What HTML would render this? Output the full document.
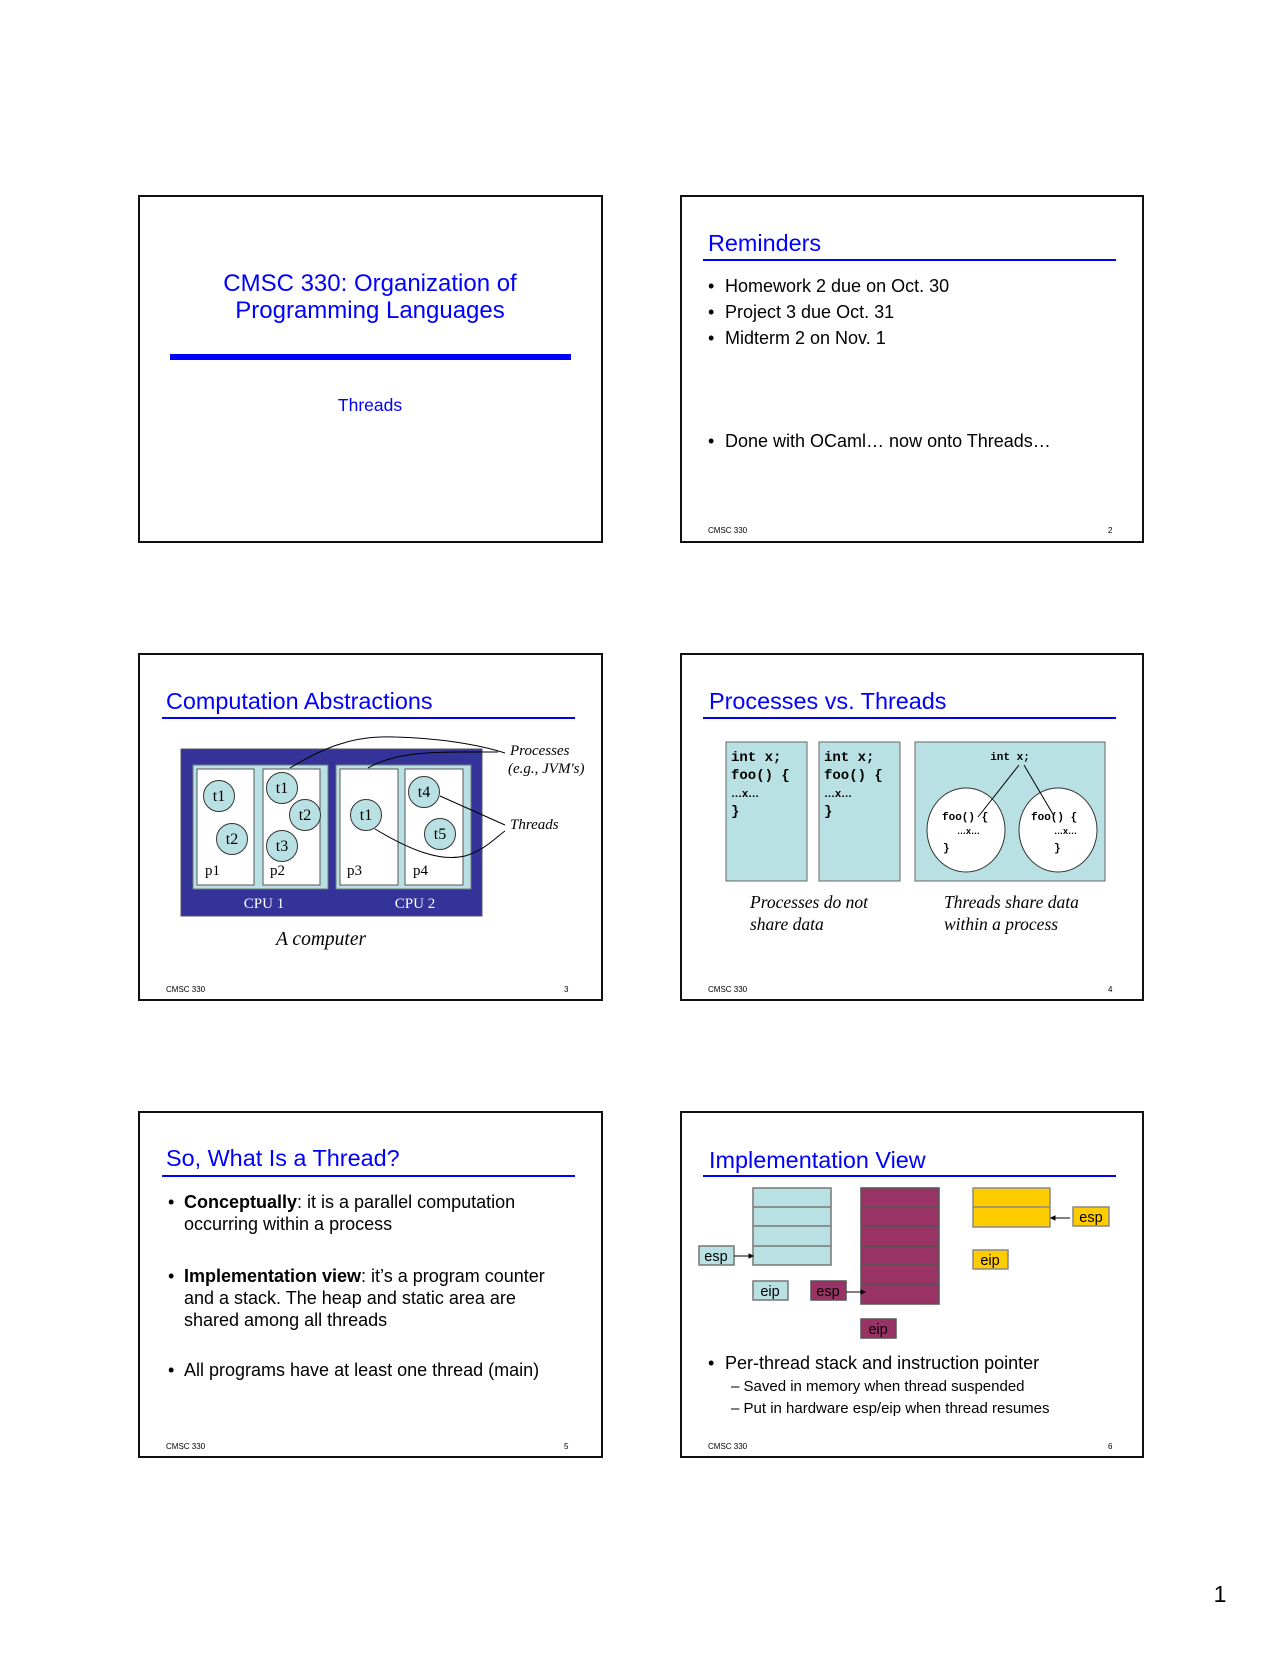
<!DOCTYPE html>
<html><head><meta charset="utf-8"><style>
html,body{margin:0;padding:0;background:#fff;}
svg{display:block;}
.s{font-family:"Liberation Sans",sans-serif;}
.t{font-family:"Liberation Sans",sans-serif;fill:#0000ff;font-size:23.4px;}
.b{font-family:"Liberation Sans",sans-serif;fill:#000;font-size:18px;}
.f{font-family:"Liberation Sans",sans-serif;fill:#000;font-size:8px;}
.sr{font-family:"Liberation Serif",serif;}
.m{font-family:"Liberation Mono",monospace;font-weight:bold;}
</style></head><body>
<svg width="1280" height="1656" viewBox="0 0 1280 1656" xmlns="http://www.w3.org/2000/svg">
<rect width="1280" height="1656" fill="#fff"/>
<g fill="none" stroke="#111" stroke-width="2">
<rect x="139" y="196" width="463" height="346"/>
<rect x="681" y="196" width="462" height="346"/>
<rect x="139" y="654" width="463" height="346"/>
<rect x="681" y="654" width="462" height="346"/>
<rect x="139" y="1112" width="463" height="345"/>
<rect x="681" y="1112" width="462" height="345"/>
</g>

<!-- Slide 1 -->
<text class="s" x="370" y="291" text-anchor="middle" fill="#0000ff" font-size="24">CMSC 330:  Organization of</text>
<text class="s" x="370" y="318" text-anchor="middle" fill="#0000ff" font-size="24">Programming Languages</text>
<rect x="170" y="354" width="401" height="6" fill="#0000ff"/>
<text class="s" x="370" y="411" text-anchor="middle" fill="#0000ff" font-size="17.5" font-weight="bold" style="font-weight:500">Threads</text>

<!-- Slide 2 -->
<text class="t" x="708" y="251">Reminders</text>
<rect x="703" y="259" width="413" height="2" fill="#0000ff"/>
<text class="b" x="708" y="292">•</text><text class="b" x="725" y="292">Homework 2 due on Oct. 30</text>
<text class="b" x="708" y="318">•</text><text class="b" x="725" y="318">Project 3 due Oct. 31</text>
<text class="b" x="708" y="344">•</text><text class="b" x="725" y="344">Midterm 2 on Nov. 1</text>
<text class="b" x="708" y="447">•</text><text class="b" x="725" y="447">Done with OCaml… now onto Threads…</text>
<text class="f" x="708" y="533">CMSC 330</text><text class="f" x="1108" y="533">2</text>

<!-- Slide 3 -->
<text class="t" x="166" y="709">Computation Abstractions</text>
<rect x="162" y="717" width="413" height="2" fill="#0000ff"/>
<rect x="181" y="749" width="301" height="167" fill="#333399" stroke="#555" stroke-width="1"/>
<rect x="193" y="765" width="135" height="124" fill="#b9e0e3" stroke="#777" stroke-width="1"/>
<rect x="336" y="765" width="135" height="124" fill="#b9e0e3" stroke="#777" stroke-width="1"/>
<g fill="#fff" stroke="#555" stroke-width="1">
<rect x="197" y="769" width="57" height="116"/>
<rect x="263" y="769" width="57" height="116"/>
<rect x="340" y="769" width="58" height="116"/>
<rect x="405" y="769" width="58" height="116"/>
</g>
<g fill="#b9e0e3" stroke="#333" stroke-width="1">
<circle cx="219" cy="796" r="15.5"/><circle cx="232" cy="839" r="15.5"/>
<circle cx="282" cy="788" r="15.5"/><circle cx="305" cy="815" r="15.5"/><circle cx="282" cy="846" r="15.5"/>
<circle cx="366" cy="815" r="15.5"/>
<circle cx="424" cy="792" r="15.5"/><circle cx="440" cy="834" r="15.5"/>
</g>
<g class="sr" font-size="16" fill="#000" text-anchor="middle">
<text x="219" y="801">t1</text><text x="232" y="844">t2</text>
<text x="282" y="793">t1</text><text x="305" y="820">t2</text><text x="282" y="851">t3</text>
<text x="366" y="820">t1</text>
<text x="424" y="797">t4</text><text x="440" y="839">t5</text>
</g>
<g class="sr" font-size="15" fill="#000">
<text x="205" y="875">p1</text><text x="270" y="875">p2</text><text x="347" y="875">p3</text><text x="413" y="875">p4</text>
</g>
<text class="sr" x="264" y="908" font-size="15" fill="#fff" text-anchor="middle">CPU 1</text>
<text class="sr" x="415" y="908" font-size="15" fill="#fff" text-anchor="middle">CPU 2</text>
<g fill="none" stroke="#000" stroke-width="1">
<path d="M290 768 C 320 750, 350 735, 395 737 C 440 738, 480 745, 505 753"/>
<path d="M368 768 C 390 755, 420 752, 460 752 L 498 752"/>
<path d="M440 796 L 505 825"/>
<path d="M375 829 C 410 850, 440 862, 465 856 C 485 850, 495 838, 505 831"/>
</g>
<g class="sr" font-style="italic" font-size="15" fill="#000">
<text x="510" y="755">Processes</text><text x="508" y="773">(e.g., JVM's)</text>
<text x="510" y="829">Threads</text>
</g>
<text class="sr" x="276" y="945" font-style="italic" font-size="19.5" fill="#000">A computer</text>
<text class="f" x="166" y="992">CMSC 330</text><text class="f" x="564" y="992">3</text>

<!-- Slide 4 -->
<text class="t" x="709" y="709">Processes vs. Threads</text>
<rect x="703" y="717" width="413" height="2" fill="#0000ff"/>
<g fill="#b9e0e3" stroke="#666" stroke-width="1">
<rect x="726" y="742" width="81" height="139"/>
<rect x="819" y="742" width="81" height="139"/>
<rect x="915" y="742" width="190" height="139"/>
</g>
<g class="m" font-size="14" fill="#000">
<text x="731" y="761">int x;</text><text x="731" y="779">foo() {</text><text x="731" y="815">}</text>
<text x="824" y="761">int x;</text><text x="824" y="779">foo() {</text><text x="824" y="815">}</text>
</g>
<g class="s" font-size="11" font-weight="bold" fill="#000">
<text x="731" y="797">…x…</text><text x="824" y="797">…x…</text>
</g>
<ellipse cx="966" cy="830" rx="39" ry="42" fill="#fff" stroke="#333" stroke-width="1"/>
<ellipse cx="1058" cy="830" rx="39" ry="42" fill="#fff" stroke="#333" stroke-width="1"/>
<g class="m" font-size="11" fill="#000">
<text x="1010" y="760" text-anchor="middle">int x;</text>
<text x="942" y="820">foo() {</text><text x="943" y="851">}</text>
<text x="1031" y="820">foo() {</text><text x="1054" y="851">}</text>
</g>
<g class="s" font-size="9" font-weight="bold" fill="#000">
<text x="957" y="834">…x…</text><text x="1054" y="834">…x…</text>
</g>
<g stroke="#000" stroke-width="1">
<line x1="1019" y1="765" x2="978" y2="817"/>
<line x1="1024" y1="765" x2="1054" y2="816"/>
</g>
<g class="sr" font-style="italic" font-size="17.5" fill="#000">
<text x="750" y="908">Processes do not</text><text x="750" y="930">share data</text>
<text x="944" y="908">Threads share data</text><text x="944" y="930">within a process</text>
</g>
<text class="f" x="708" y="992">CMSC 330</text><text class="f" x="1108" y="992">4</text>

<!-- Slide 5 -->
<text class="t" x="166" y="1166">So, What Is a Thread?</text>
<rect x="162" y="1175" width="413" height="2" fill="#0000ff"/>
<text class="b" x="168" y="1208">•</text><text class="b" x="184" y="1208"><tspan font-weight="bold">Conceptually</tspan>: it is a parallel computation</text>
<text class="b" x="184" y="1230">occurring within a process</text>
<text class="b" x="168" y="1282">•</text><text class="b" x="184" y="1282"><tspan font-weight="bold">Implementation view</tspan>: it’s a program counter</text>
<text class="b" x="184" y="1304">and a stack.  The heap and static area are</text>
<text class="b" x="184" y="1326">shared among all threads</text>
<text class="b" x="168" y="1376">•</text><text class="b" x="184" y="1376">All programs have at least one thread (main)</text>
<text class="f" x="166" y="1449">CMSC 330</text><text class="f" x="564" y="1449">5</text>

<!-- Slide 6 -->
<text class="t" x="709" y="1168">Implementation View</text>
<rect x="703" y="1175" width="413" height="2" fill="#0000ff"/>
<g stroke="#777" stroke-width="1.5">
<rect x="753" y="1188" width="78" height="77" fill="#b9e0e3"/>
<line x1="753" y1="1207" x2="831" y2="1207"/><line x1="753" y1="1226" x2="831" y2="1226"/><line x1="753" y1="1246" x2="831" y2="1246"/>
<rect x="699" y="1246" width="35" height="19" fill="#b9e0e3"/>
<rect x="753" y="1281" width="35" height="19" fill="#b9e0e3"/>
</g>
<g stroke="#555" stroke-width="1.5">
<rect x="861" y="1188" width="78" height="116" fill="#993366"/>
<line x1="861" y1="1207" x2="939" y2="1207"/><line x1="861" y1="1226" x2="939" y2="1226"/><line x1="861" y1="1246" x2="939" y2="1246"/><line x1="861" y1="1265" x2="939" y2="1265"/><line x1="861" y1="1284" x2="939" y2="1284"/>
<rect x="811" y="1281" width="35" height="19" fill="#993366"/>
<rect x="861" y="1319" width="35" height="19" fill="#993366"/>
</g>
<g stroke="#888" stroke-width="1.5">
<rect x="973" y="1188" width="77" height="39" fill="#ffcc00"/>
<line x1="973" y1="1207" x2="1050" y2="1207"/>
<rect x="1073" y="1207" width="36" height="19" fill="#ffcc00"/>
<rect x="973" y="1250" width="35" height="19" fill="#ffcc00"/>
</g>
<g stroke="#000" stroke-width="1">
<line x1="734" y1="1256" x2="750" y2="1256"/><path d="M753 1256 l-4 -2 v4z" fill="#000"/>
<line x1="846" y1="1292" x2="862" y2="1292"/><path d="M865 1292 l-4 -2 v4z" fill="#000"/>
<line x1="1054" y1="1218" x2="1070" y2="1218"/><path d="M1051 1218 l4 -2 v4z" fill="#000"/>
</g>
<g class="s" font-size="14.5" fill="#000" text-anchor="middle">
<text x="716" y="1261">esp</text><text x="770" y="1296">eip</text>
<text x="828" y="1296">esp</text><text x="878" y="1334">eip</text>
<text x="1091" y="1222">esp</text><text x="990" y="1265">eip</text>
</g>
<text class="b" x="708" y="1369">•</text><text class="b" x="725" y="1369" font-size="18.3">Per-thread stack and instruction pointer</text>
<text class="s" x="731" y="1391" font-size="15" fill="#000">– Saved in memory when thread suspended</text>
<text class="s" x="731" y="1413" font-size="15" fill="#000">– Put in hardware esp/eip when thread resumes</text>
<text class="f" x="708" y="1449">CMSC 330</text><text class="f" x="1108" y="1449">6</text>

<text class="s" x="1220" y="1602" font-size="23" fill="#000" text-anchor="middle">1</text>
</svg>
</body></html>
